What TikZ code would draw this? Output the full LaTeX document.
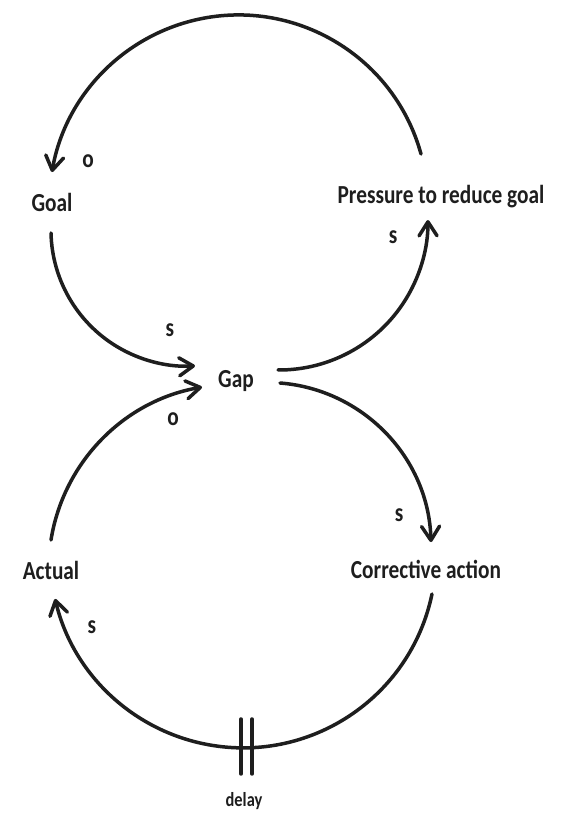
\documentclass[tikz,border=0pt]{standalone}
\usepackage{fontspec}
\newfontfamily\hand{Carlito}[FakeStretch=0.82]
\usetikzlibrary{arrows.meta}
\definecolor{ink}{RGB}{30,30,30}
\begin{document}
\begin{tikzpicture}[x=1pt,y=1pt,
  every node/.style={inner sep=0pt,outer sep=0pt,text=ink,anchor=base},
  lbl/.style={font=\hand\bfseries\fontsize{26}{26}\selectfont},
  small/.style={font=\hand\bfseries\fontsize{20}{20}\selectfont},
  link/.style={draw=ink,line width=3.5pt,line cap=round},
  arr/.style={link,-{Straight Barb[length=14pt,width=18pt,round]}}]
\useasboundingbox[fill=white] (0,0) rectangle (567,833);
% variables
\node[lbl] (goal) at (52,621) {Goal};
\node[lbl] (press) at (441,629) {Pressure to reduce goal};
\node[lbl] (gap) at (236,445) {Gap};
\node[lbl] (actual) at (51,253) {Actual};
\node[lbl] (corr) at (426,254) {Corrective action};
\node[small] (delaylbl) at (244,27) {delay};
% polarity labels
\node[lbl] (p1) at (88,665) {o};
\node[lbl] (p2) at (393,589) {s};
\node[lbl] (p3) at (170,496) {s};
\node[lbl] (p4) at (173,407) {o};
\node[lbl] (p5) at (399,311) {s};
\node[lbl] (p6) at (92,199) {s};
% connector start points
\coordinate (pressout) at (421,679);
\coordinate (goalout) at (51,600);
\coordinate (gapoutA) at (278,463);
\coordinate (gapoutB) at (280,450);
\coordinate (actualout) at (51,293);
\coordinate (corrout) at (432,239);
% connectors
\draw[arr] (pressout) arc[start angle=15.4,end angle=170.2,radius=189.3];
\draw[arr] (goalout) arc[start angle=181.3,end angle=273.3,radius=136.2];
\draw[arr] (gapoutA) arc[start angle=269.6,end angle=360.4,radius=148.9];
\draw[arr] (gapoutB) arc[start angle=85.5,end angle=1.5,radius=163.9];
\draw[arr] (actualout) arc[start angle=170.9,end angle=99.8,radius=184.8];
\draw[arr] (corrout) arc[start angle=-11.7,end angle=-166.8,radius=193];
% delay mark
\coordinate (d1a) at (241,114); \coordinate (d1b) at (241,59);
\coordinate (d2a) at (252,114); \coordinate (d2b) at (252,59);
\draw[link] (d1a) -- (d1b);
\draw[link] (d2a) -- (d2b);
\end{tikzpicture}
\end{document}
